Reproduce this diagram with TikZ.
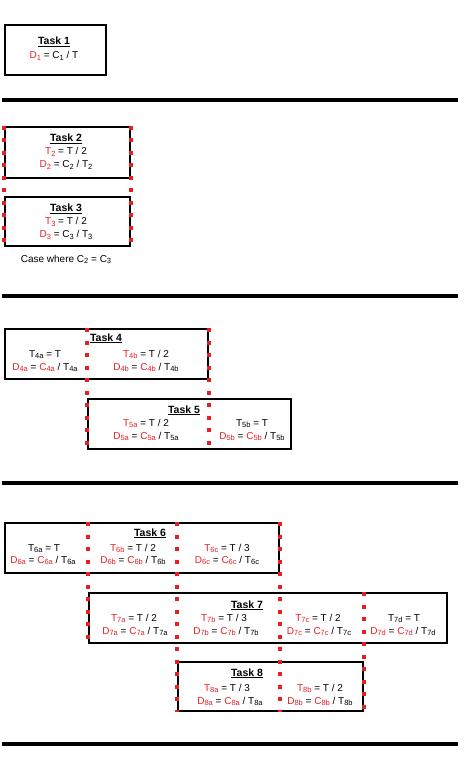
\documentclass[tikz,border=0pt]{standalone}
\usepackage{fontspec}
\setmainfont{Liberation Sans}
\definecolor{rd}{RGB}{232,30,37}
\newcommand{\sbs}[1]{\raisebox{-0.2ex}{\fontsize{7.5}{7.5}\selectfont #1}}
\newcommand{\R}[1]{\textcolor{rd}{#1}}
\newcommand{\ttlx}[1]{\underline{\fontsize{10.5}{12}\selectfont\textbf{#1}}}
\begin{document}
\begin{tikzpicture}[x=1pt,y=-1pt,
  font=\fontsize{10}{12}\selectfont,
  taskbox/.style={draw=black, line width=1.8pt, fill=none, inner sep=0pt, anchor=north west},
  sepline/.style={line width=4pt},
  reddots/.style={draw=rd, line width=4pt, dash pattern=on 4pt off 8.5pt},
  lbl/.style={inner sep=0pt, anchor=base}]
\useasboundingbox (0,0) rectangle (474,775);

% separators
\coordinate (s1l) at (2,100); \coordinate (s1r) at (458,100);
\coordinate (s2l) at (2,296); \coordinate (s2r) at (458,296);
\coordinate (s3l) at (2,483); \coordinate (s3r) at (458,483);
\coordinate (s4l) at (2,744); \coordinate (s4r) at (458,744);
\draw[sepline] (s1l) -- (s1r);
\draw[sepline] (s2l) -- (s2r);
\draw[sepline] (s3l) -- (s3r);
\draw[sepline] (s4l) -- (s4r);

% boxes
\node[taskbox, minimum width=101pt, minimum height=50pt] (b1) at (4,24) {};
\node[taskbox, minimum width=125pt, minimum height=51pt] (b2) at (4,126) {};
\node[taskbox, minimum width=125pt, minimum height=49pt] (b3) at (4,196) {};
\node[taskbox, minimum width=203pt, minimum height=50pt] (b4) at (4,328) {};
\node[taskbox, minimum width=203pt, minimum height=50pt] (b5) at (87,398) {};
\node[taskbox, minimum width=274pt, minimum height=50pt] (b6) at (4,522) {};
\node[taskbox, minimum width=358pt, minimum height=50pt] (b7) at (88,592) {};
\node[taskbox, minimum width=185pt, minimum height=49pt] (b8) at (177,661) {};

% red dotted boundaries
\draw[reddots] (b2.north west) -- (b3.south west);
\draw[reddots] (b2.north east) -- (b3.south east);
\draw[reddots] (b5.north west |- b4.north) -- (b5.south west);
\draw[reddots] (b4.north east) -- (b4.north east |- b5.south);
\draw[reddots] (b7.north west |- b6.north) -- (b7.south west);
\draw[reddots] (b8.north west |- b6.north) -- (b8.south west);
\draw[reddots] (b6.north east) -- (b6.north east |- b8.south);
\draw[reddots] (b8.north east |- b7.north) -- (b8.south east);

% Task 1
\node[lbl] (t1) at (54,45) {\ttlx{Task 1}};
\node[lbl] (t1d) at (54,59) {\R{D\sbs{1}} = C\sbs{1} / T};
% Task 2
\node[lbl] (t2) at (66,142) {\ttlx{Task 2}};
\node[lbl] (t2t) at (66,155) {\R{T\sbs{2}} = T / 2};
\node[lbl] (t2d) at (66,168) {\R{D\sbs{2}} = C\sbs{2} / T\sbs{2}};
% Task 3
\node[lbl] (t3) at (66,212) {\ttlx{Task 3}};
\node[lbl] (t3t) at (66,225) {\R{T\sbs{3}} = T / 2};
\node[lbl] (t3d) at (66,238) {\R{D\sbs{3}} = C\sbs{3} / T\sbs{3}};
\node[lbl] (case) at (66,262) {Case where C\sbs{2} = C\sbs{3}};
% Task 4
\node[lbl] (t4) at (106,341) {\ttlx{Task 4}};
\node[lbl] (t4at) at (45,357) {T\sbs{4a} = T};
\node[lbl] (t4ad) at (45,370) {\R{D\sbs{4a}} = \R{C\sbs{4a}} / T\sbs{4a}};
\node[lbl] (t4bt) at (146,357) {\R{T\sbs{4b}} = T / 2};
\node[lbl] (t4bd) at (146,370) {\R{D\sbs{4b}} = \R{C\sbs{4b}} / T\sbs{4b}};
% Task 5
\node[lbl] (t5) at (184,413) {\ttlx{Task 5}};
\node[lbl] (t5at) at (146,426) {\R{T\sbs{5a}} = T / 2};
\node[lbl] (t5ad) at (146,439) {\R{D\sbs{5a}} = \R{C\sbs{5a}} / T\sbs{5a}};
\node[lbl] (t5bt) at (252,426) {T\sbs{5b} = T};
\node[lbl] (t5bd) at (252,439) {\R{D\sbs{5b}} = \R{C\sbs{5b}} / T\sbs{5b}};
% Task 6
\node[lbl] (t6) at (150,536) {\ttlx{Task 6}};
\node[lbl] (t6at) at (44,551) {T\sbs{6a} = T};
\node[lbl] (t6ad) at (43,563) {\R{D\sbs{6a}} = \R{C\sbs{6a}} / T\sbs{6a}};
\node[lbl] (t6bt) at (133,551) {\R{T\sbs{6b}} = T / 2};
\node[lbl] (t6bd) at (133,563) {\R{D\sbs{6b}} = \R{C\sbs{6b}} / T\sbs{6b}};
\node[lbl] (t6ct) at (227,551) {\R{T\sbs{6c}} = T / 3};
\node[lbl] (t6cd) at (227,563) {\R{D\sbs{6c}} = \R{C\sbs{6c}} / T\sbs{6c}};
% Task 7
\node[lbl] (t7) at (247,608) {\ttlx{Task 7}};
\node[lbl] (t7at) at (134,621) {\R{T\sbs{7a}} = T / 2};
\node[lbl] (t7ad) at (135,634) {\R{D\sbs{7a}} = \R{C\sbs{7a}} / T\sbs{7a}};
\node[lbl] (t7bt) at (224,621) {\R{T\sbs{7b}} = T / 3};
\node[lbl] (t7bd) at (226,634) {\R{D\sbs{7b}} = \R{C\sbs{7b}} / T\sbs{7b}};
\node[lbl] (t7ct) at (318,621) {\R{T\sbs{7c}} = T / 2};
\node[lbl] (t7cd) at (319,634) {\R{D\sbs{7c}} = \R{C\sbs{7c}} / T\sbs{7c}};
\node[lbl] (t7dt) at (404,621) {T\sbs{7d} = T};
\node[lbl] (t7dd) at (403,634) {\R{D\sbs{7d}} = \R{C\sbs{7d}} / T\sbs{7d}};
% Task 8
\node[lbl] (t8) at (247,676) {\ttlx{Task 8}};
\node[lbl] (t8at) at (227,691) {\R{T\sbs{8a}} = T / 3};
\node[lbl] (t8ad) at (230,704) {\R{D\sbs{8a}} = \R{C\sbs{8a}} / T\sbs{8a}};
\node[lbl] (t8bt) at (320,691) {\R{T\sbs{8b}} = T / 2};
\node[lbl] (t8bd) at (320,704) {\R{D\sbs{8b}} = \R{C\sbs{8b}} / T\sbs{8b}};
\end{tikzpicture}
\end{document}
